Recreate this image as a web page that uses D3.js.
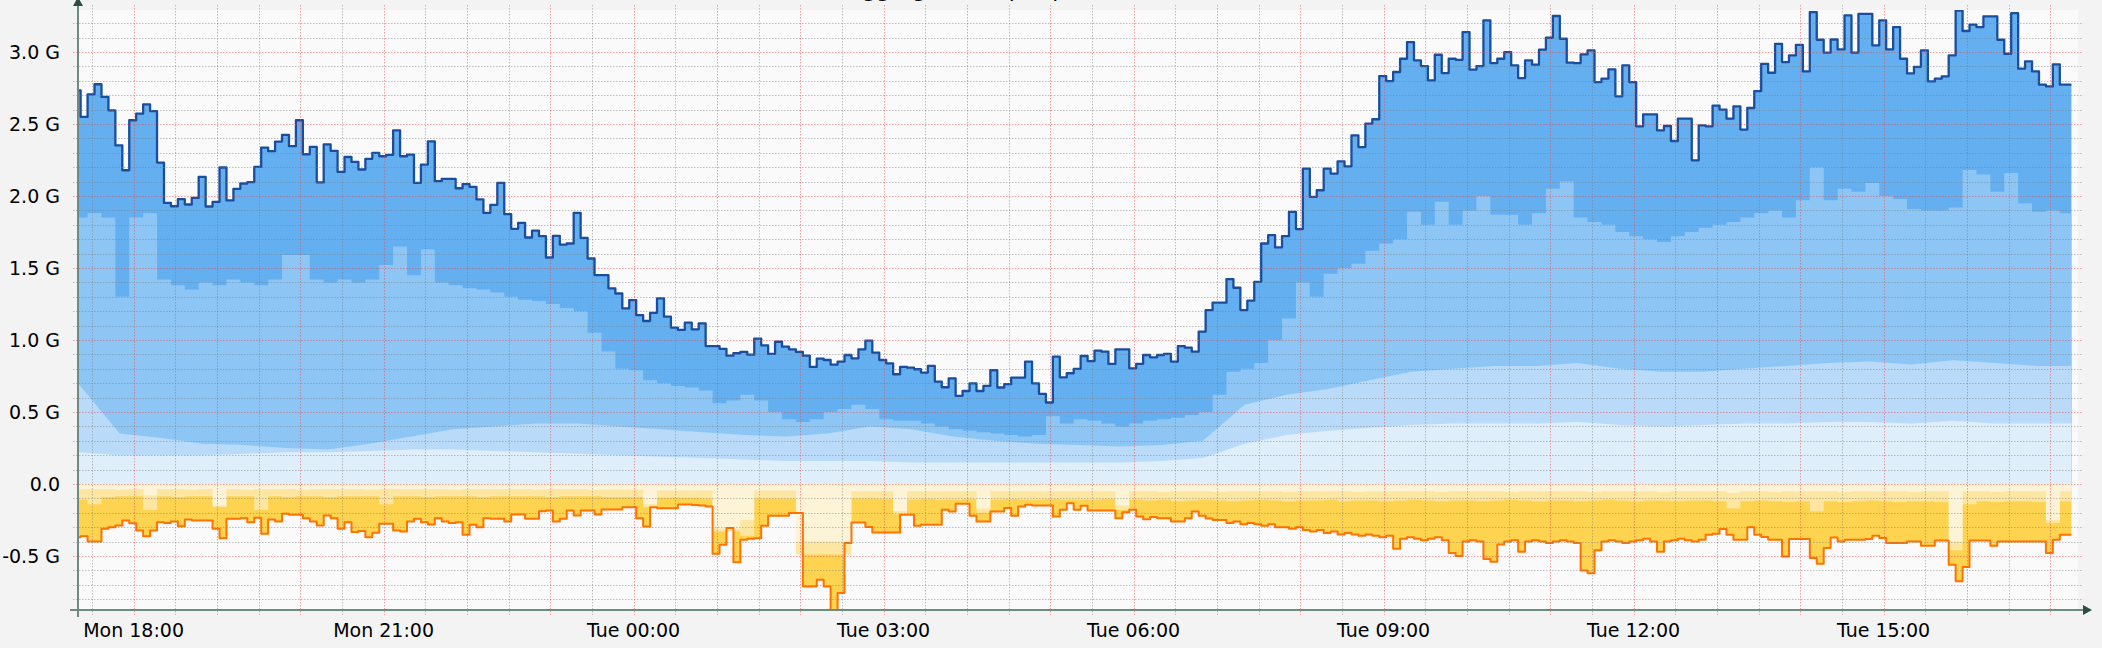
<!DOCTYPE html>
<html><head><meta charset="utf-8">
<script src="https://cdn.jsdelivr.net/npm/d3@7"></script>
<style>
body{margin:0;background:#f3f3f3;}
svg{display:block;}
text{font-family:'DejaVu Sans',sans-serif;fill:#000;}
</style></head>
<body><svg id="chart" width="2102" height="648"></svg>
<script>
// ---------------- data ----------------
const titleText = "Aggregate Output per Host (bits/sec)";
const rangeStart = new Date(2024, 0, 15, 17, 20, 0);   // Mon 17:20
const rangeEnd   = new Date(2024, 0, 16, 17, 20, 0);   // Tue 17:20
const firstSample = new Date(2024, 0, 15, 17, 16, 54);
const lastSampleEnd = new Date(2024, 0, 16, 17, 15, 15);
const sampleMinutes = 5;
const levelStepMinutes = 10;
const coarseStepMinutes = 30;
const yTickValues = [-0.5, 0, 0.5, 1, 1.5, 2, 2.5, 3];
const yTickLabels = ["-0.5 G", "0.0", "0.5 G", "1.0 G", "1.5 G", "2.0 G", "2.5 G", "3.0 G"];
const yDomain = [-0.875, 3.2917];

// top of the inbound (blue) stack, 5-minute samples
const inTotal = [2.733,2.549,2.706,2.776,2.688,2.595,2.352,2.179,2.526,2.572,2.637,2.590,2.232,1.952,1.929,1.978,1.941,1.987,2.133,1.927,1.959,2.198,1.969,2.050,2.087,2.096,2.202,2.336,2.311,2.378,2.424,2.346,2.526,2.290,2.341,2.094,2.359,2.313,2.167,2.271,2.237,2.184,2.258,2.299,2.276,2.285,2.456,2.276,2.288,2.091,2.218,2.380,2.103,2.119,2.119,2.054,2.082,2.063,1.976,1.883,1.939,2.091,1.874,1.772,1.814,1.712,1.760,1.721,1.573,1.723,1.663,1.670,1.883,
1.709,1.566,1.451,1.451,1.359,1.323,1.219,1.277,1.173,1.132,1.189,1.289,1.162,1.086,1.070,1.120,1.074,1.115,0.958,0.958,0.938,0.891,0.908,0.917,0.898,1.009,0.963,0.903,0.988,0.954,0.935,0.917,0.891,0.813,0.870,0.861,0.829,0.850,0.896,0.873,0.935,0.995,0.912,0.861,0.838,0.762,0.813,0.808,0.797,0.774,0.820,0.711,0.672,0.734,0.612,0.646,0.699,0.646,0.681,0.790,0.670,0.693,0.739,0.739,0.850,0.699,0.626,0.566,0.884,0.741,0.769,0.799,
0.889,0.854,0.926,0.919,0.834,0.935,0.935,0.803,0.834,0.896,0.880,0.896,0.903,0.850,0.958,0.947,0.919,1.058,1.208,1.259,1.259,1.423,1.363,1.208,1.273,1.404,1.670,1.728,1.643,1.721,1.890,1.770,2.190,1.994,2.040,2.190,2.156,2.241,2.206,2.421,2.340,2.503,2.533,2.833,2.798,2.861,2.953,3.069,2.942,2.902,2.803,2.981,2.854,2.953,2.946,3.138,2.877,2.902,3.22,2.923,2.953,2.999,2.907,2.819,2.942,2.912,3.016,3.099,3.25,3.092,2.926,
2.923,2.983,3.011,2.791,2.815,2.879,2.692,2.907,2.791,2.484,2.567,2.567,2.456,2.486,2.382,2.537,2.537,2.248,2.491,2.484,2.628,2.600,2.537,2.623,2.461,2.611,2.729,2.918,2.856,3.057,2.930,2.976,3.050,2.865,3.277,3.085,2.995,3.087,3.018,3.254,2.995,3.265,3.265,3.046,3.219,3.018,3.173,2.953,2.851,2.897,3.011,2.796,2.815,2.831,2.976,3.288,3.146,3.190,3.173,3.247,3.247,3.085,2.988,3.270,2.884,2.935,2.865,2.773,2.761,2.914,2.773,2.773];

// bottom of the outbound (orange) stack, 5-minute samples
const outTotal = [-0.369,-0.362,-0.399,-0.399,-0.311,-0.300,-0.288,-0.253,-0.272,-0.323,-0.362,-0.323,-0.265,-0.270,-0.260,-0.293,-0.247,-0.253,-0.253,-0.253,-0.311,-0.376,-0.242,-0.242,-0.237,-0.265,-0.235,-0.346,-0.247,-0.260,-0.207,-0.214,-0.214,-0.237,-0.260,-0.288,-0.219,-0.237,-0.311,-0.265,-0.334,-0.327,-0.369,-0.339,-0.276,-0.276,-0.323,-0.329,-0.260,-0.242,-0.265,-0.281,-0.237,-0.260,-0.270,-0.265,-0.353,-0.283,-0.300,-0.237,-0.242,-0.242,-0.260,-0.212,-0.212,-0.242,-0.242,-0.189,-0.184,-0.260,-0.242,-0.184,-0.219,-0.184,-0.184,-0.212,-0.177,-0.177,-0.177,-0.161,-0.161,-0.237,-0.295,-0.161,-0.168,-0.168,-0.168,-0.143,-0.143,-0.145,
-0.150,-0.156,-0.484,-0.422,-0.306,-0.544,-0.387,-0.380,-0.376,-0.290,-0.221,-0.221,-0.221,-0.202,-0.202,-0.711,-0.711,-0.665,-0.711,-0.900,-0.757,-0.410,-0.267,-0.267,-0.299,-0.336,-0.336,-0.336,-0.336,-0.214,-0.214,-0.290,-0.283,-0.283,-0.283,-0.179,-0.191,-0.137,-0.137,-0.221,-0.260,-0.260,-0.191,-0.191,-0.167,-0.221,-0.156,-0.144,-0.149,-0.149,-0.149,-0.225,-0.179,-0.133,-0.179,-0.151,-0.184,-0.184,-0.184,-0.184,-0.237,-0.197,-0.179,-0.225,-0.244,-0.230,-0.237,-0.237,-0.260,-0.260,-0.237,-0.191,
-0.22,-0.24,-0.25,-0.25,-0.27,-0.26,-0.28,-0.27,-0.28,-0.29,-0.28,-0.30,-0.30,-0.31,-0.30,-0.32,-0.33,-0.32,-0.34,-0.33,-0.35,-0.34,-0.35,-0.36,-0.35,-0.36,-0.37,-0.36,-0.45,-0.38,-0.37,-0.38,-0.39,-0.38,-0.37,-0.39,-0.48,-0.50,-0.40,-0.39,-0.40,-0.52,-0.54,-0.42,-0.40,-0.39,-0.47,-0.40,-0.39,-0.40,-0.41,-0.40,-0.39,-0.40,-0.41,-0.60,-0.62,-0.46,-0.40,-0.39,-0.40,-0.41,-0.40,-0.39,-0.38,-0.40,-0.47,-0.40,-0.39,-0.38,-0.39,-0.40,
-0.387,-0.352,-0.345,-0.313,-0.352,-0.387,-0.387,-0.301,-0.352,-0.368,-0.387,-0.387,-0.503,-0.382,-0.382,-0.382,-0.514,-0.554,-0.445,-0.371,-0.399,-0.387,-0.387,-0.387,-0.382,-0.359,-0.375,-0.410,-0.410,-0.410,-0.399,-0.399,-0.429,-0.429,-0.392,-0.392,-0.560,-0.676,-0.577,-0.392,-0.392,-0.392,-0.429,-0.399,-0.399,-0.399,-0.399,-0.399,-0.399,-0.399,-0.480,-0.387,-0.352,-0.352];

// top of the 3rd blue layer (10-minute readings)
const inLevel3 = [1.85,1.88,1.85,1.30,1.85,1.88,1.42,1.38,1.35,1.40,1.38,1.42,1.40,1.38,1.42,1.59,1.59,1.42,1.40,1.42,1.40,1.42,1.52,1.65,1.45,1.63,1.40,1.38,1.36,1.35,1.33,1.30,1.28,1.27,1.25,1.22,
1.20,1.05,0.92,0.80,0.79,0.72,0.70,0.68,0.67,0.65,0.56,0.58,0.62,0.58,0.50,0.45,0.43,0.45,0.50,0.52,0.55,0.52,0.45,0.44,0.44,0.42,0.40,0.38,0.37,0.36,0.35,0.34,0.33,0.34,0.47,0.42,
0.45,0.44,0.42,0.40,0.42,0.44,0.45,0.46,0.48,0.50,0.62,0.78,0.80,0.84,1.00,1.15,1.40,1.30,1.46,1.50,1.53,1.62,1.67,1.70,1.89,1.80,1.96,1.80,1.90,2.00,1.87,1.87,1.80,1.88,2.05,2.10,
1.85,1.82,1.80,1.75,1.72,1.70,1.68,1.72,1.75,1.78,1.80,1.82,1.85,1.88,1.90,1.85,1.97,2.20,1.97,2.05,2.03,2.09,2.00,1.98,1.91,1.90,1.90,1.92,2.18,2.15,2.03,2.16,1.95,1.89,1.90,1.88,1.86];
// top of the 2nd and 1st blue layers (half-hourly readings)
const inLevel2 = [0.70,0.35,0.32,0.28,0.27,0.25,0.24,0.28,0.33,0.38,0.40,0.42,0.42,0.40,0.38,0.36,0.34,0.33,0.35,0.40,0.38,0.33,0.30,0.28,0.27,0.26,0.27,0.30,0.55,0.62,0.66,0.72,0.78,0.80,0.82,0.82,0.84,0.80,0.78,0.78,0.80,0.82,0.84,0.85,0.83,0.86,0.84,0.82,0.80];
const inLevel1 = [0.22,0.20,0.20,0.20,0.21,0.22,0.22,0.23,0.24,0.24,0.23,0.22,0.21,0.20,0.19,0.18,0.17,0.16,0.16,0.16,0.15,0.15,0.15,0.15,0.15,0.15,0.16,0.18,0.28,0.34,0.37,0.39,0.41,0.42,0.42,0.42,0.43,0.41,0.40,0.41,0.42,0.42,0.43,0.43,0.42,0.44,0.42,0.42,0.41];

// bottoms of the two upper orange layers (10-minute readings)
const outLevel2 = [-0.110,-0.140,-0.090,-0.085,-0.085,-0.180,-0.085,-0.090,-0.085,-0.085,-0.160,-0.085,-0.085,-0.180,
-0.085,-0.090,-0.085,-0.085,-0.090,-0.085,-0.085,-0.085,-0.140,
-0.085,-0.085,-0.090,-0.085,-0.085,-0.085,-0.090,-0.085,-0.085,-0.085,-0.085,-0.090,-0.085,-0.085,-0.085,-0.090,-0.090,-0.090,-0.160,
-0.095,-0.095,-0.095,-0.100,-0.330,-0.330,-0.360,-0.100,-0.100,-0.100,-0.490,-0.490,-0.490,-0.490,-0.100,-0.100,-0.105,-0.210,
-0.110,-0.105,-0.110,-0.110,-0.105,-0.200,-0.110,-0.105,-0.110,-0.110,-0.105,-0.110,-0.110,-0.110,-0.105,-0.180,
-0.110,-0.115,-0.110,-0.120,-0.115,-0.110,-0.115,-0.120,-0.115,-0.110,-0.115,-0.120,-0.115,-0.115,-0.110,-0.120,-0.115,-0.115,-0.120,-0.115,-0.110,-0.115,-0.120,-0.115,-0.115,-0.120,-0.115,-0.110,-0.115,-0.120,-0.115,-0.115,-0.120,-0.115,-0.110,-0.115,-0.120,-0.115,-0.115,-0.120,-0.115,-0.115,-0.120,
-0.170,-0.120,-0.115,-0.120,-0.125,-0.120,-0.190,-0.120,-0.125,-0.120,-0.115,-0.120,-0.125,-0.120,-0.120,-0.125,-0.460,-0.140,-0.120,-0.125,-0.120,-0.120,-0.125,-0.270,-0.120,-0.120];
const outLevel1 = [-0.035,-0.035,-0.035,-0.040,-0.035,-0.080,-0.035,-0.035,-0.040,-0.035,-0.150,
-0.035,-0.040,-0.035,-0.035,-0.035,-0.040,-0.035,-0.035,-0.035,-0.035,-0.040,-0.035,-0.035,-0.035,-0.035,-0.035,-0.040,-0.035,-0.035,-0.035,-0.035,-0.035,-0.040,-0.035,-0.035,-0.035,-0.040,-0.040,-0.040,-0.040,
-0.140,-0.045,-0.045,-0.045,-0.045,-0.310,-0.310,-0.250,-0.045,-0.045,-0.045,-0.400,-0.400,-0.400,-0.400,-0.050,-0.050,-0.050,-0.190,
-0.050,-0.050,-0.050,-0.050,-0.050,-0.170,-0.050,-0.050,-0.050,-0.050,-0.050,-0.050,-0.050,-0.050,-0.050,-0.150,
-0.050,-0.050,-0.055,-0.050,-0.050,-0.050,-0.055,-0.050,-0.050,-0.050,-0.050,-0.055,-0.050,-0.050,-0.050,-0.050,-0.055,-0.050,-0.050,-0.050,-0.050,-0.050,-0.055,-0.050,-0.050,-0.050,-0.050,-0.055,-0.050,-0.050,-0.050,-0.050,-0.050,-0.055,-0.050,-0.050,-0.050,-0.050,-0.055,-0.050,-0.050,-0.050,-0.050,
-0.060,-0.050,-0.050,-0.055,-0.050,-0.050,-0.050,-0.050,-0.055,-0.050,-0.050,-0.050,-0.050,-0.055,-0.050,-0.050,-0.400,-0.050,-0.050,-0.055,-0.050,-0.050,-0.050,-0.250,-0.050,-0.050];

const blueColors = ["#64aff0", "#8dc6f4", "#b9daf8", "#deeefb"];
const orangeColors = ["#fdd34f", "#fde6a2", "#fdf3d6"];

// ---------------- drawing ----------------
const svg = d3.select("#chart");
const W = 2102, H = 648;
const plot = {left: 78, right: 2078, top: 10, bottom: 610};

svg.append("rect").attr("width", W).attr("height", H).attr("fill", "#f3f3f3");
svg.append("rect").attr("x", plot.left).attr("y", plot.top)
  .attr("width", plot.right - plot.left).attr("height", plot.bottom - plot.top).attr("fill", "#fafafa");

const x = d3.scaleTime().domain([rangeStart, rangeEnd]).range([plot.left, plot.right]);
const y = d3.scaleLinear().domain(yDomain).range([plot.bottom, plot.top]);

function series(vals, t0, stepMin) {
  const pts = vals.map((v, i) => ({t: d3.timeSecond.offset(t0, Math.round(i * stepMin * 60)), v}))
    .filter(p => p.t < lastSampleEnd);
  pts.push({t: lastSampleEnd, v: pts[pts.length - 1].v});
  return pts;
}
const inTop = series(inTotal, firstSample, sampleMinutes);
const outBot = series(outTotal, firstSample, sampleMinutes);

svg.append("clipPath").attr("id", "clip").append("rect")
  .attr("x", plot.left).attr("y", plot.top).attr("width", plot.right - plot.left).attr("height", plot.bottom - plot.top);
const g = svg.append("g").attr("clip-path", "url(#clip)");

const stepArea = d3.area().curve(d3.curveStepAfter).x(d => x(d.t)).y0(y(0)).y1(d => y(d.v));
const linArea = d3.area().curve(d3.curveLinear).x(d => x(d.t)).y0(y(0)).y1(d => y(d.v));

g.append("path").datum(inTop).attr("d", stepArea).attr("fill", blueColors[0]);
g.append("path").datum(series(inLevel3, firstSample, levelStepMinutes)).attr("d", stepArea).attr("fill", blueColors[1]);
g.append("path").datum(series(inLevel2, rangeStart, coarseStepMinutes)).attr("d", linArea).attr("fill", blueColors[2]);
g.append("path").datum(series(inLevel1, rangeStart, coarseStepMinutes)).attr("d", linArea).attr("fill", blueColors[3]);

g.append("path").datum(outBot).attr("d", stepArea).attr("fill", orangeColors[0]);
g.append("path").datum(series(outLevel2, firstSample, levelStepMinutes)).attr("d", stepArea).attr("fill", orangeColors[1]);
g.append("path").datum(series(outLevel1, firstSample, levelStepMinutes)).attr("d", stepArea).attr("fill", orangeColors[2]);

// grid (on top of areas)
const grid = svg.append("g");
const minorY = d3.range(-8, 33).map(k => k / 10).filter(v => Math.abs(v * 2 - Math.round(v * 2)) > 1e-6);
grid.selectAll(".hmin").data(minorY).join("line")
  .attr("x1", plot.left - 5).attr("x2", plot.right + 4)
  .attr("y1", d => Math.round(y(d)) + 0.5).attr("y2", d => Math.round(y(d)) + 0.5)
  .attr("stroke", "rgba(120,120,120,0.45)").attr("stroke-dasharray", "1.5,1.5");
const halfHours = d3.timeMinute.every(30).range(rangeStart, rangeEnd).filter(d => d.getMinutes() === 30);
const hours = d3.timeHour.range(rangeStart, rangeEnd);
grid.selectAll(".vmin").data(halfHours).join("line")
  .attr("y1", plot.top - 5).attr("y2", plot.bottom + 5)
  .attr("x1", d => Math.round(x(d)) + 0.5).attr("x2", d => Math.round(x(d)) + 0.5)
  .attr("stroke", "rgba(120,120,120,0.45)").attr("stroke-dasharray", "1.5,1.5");
grid.selectAll(".vmaj").data(hours).join("line")
  .attr("y1", plot.top - 5).attr("y2", plot.bottom + 5)
  .attr("x1", d => Math.round(x(d)) + 0.5).attr("x2", d => Math.round(x(d)) + 0.5)
  .attr("stroke", "rgba(230,70,70,0.5)").attr("stroke-dasharray", "1.5,1.5");
grid.selectAll(".hmaj").data(yTickValues).join("line")
  .attr("x1", plot.left - 5).attr("x2", plot.right + 4)
  .attr("y1", d => Math.round(y(d)) + 0.5).attr("y2", d => Math.round(y(d)) + 0.5)
  .attr("stroke", "rgba(230,70,70,0.5)").attr("stroke-dasharray", "1.5,1.5");

// lines
const stepLine = d3.line().curve(d3.curveStepAfter).x(d => x(d.t)).y(d => y(d.v));
g.append("path").datum(inTop).attr("d", stepLine).attr("fill", "none")
  .attr("stroke", "#1a4e9c").attr("stroke-width", 2.3).attr("stroke-linejoin", "round");
g.append("path").datum(outBot).attr("d", stepLine).attr("fill", "none")
  .attr("stroke", "#ff7300").attr("stroke-width", 2).attr("stroke-linejoin", "round");

// axes
const axisColor = "#6f8a80";
svg.append("line").attr("x1", plot.left).attr("x2", plot.left).attr("y1", plot.bottom + 7).attr("y2", 3)
  .attr("stroke", axisColor).attr("stroke-width", 2);
svg.append("line").attr("x1", plot.left - 8).attr("x2", plot.right + 8).attr("y1", plot.bottom).attr("y2", plot.bottom)
  .attr("stroke", axisColor).attr("stroke-width", 2);
svg.append("path").attr("d", `M${plot.left - 5},6 L${plot.left + 5},6 L${plot.left},-3 Z`).attr("fill", "#2e4f40");
svg.append("path").attr("d", `M${plot.right + 5},${plot.bottom - 5} L${plot.right + 5},${plot.bottom + 5} L${plot.right + 14},${plot.bottom} Z`).attr("fill", "#2e4f40");

// labels
svg.selectAll(".ylab").data(yTickValues).join("text")
  .attr("x", 60).attr("y", d => y(d) + 7).attr("text-anchor", "end")
  .attr("font-size", 19).text((d, i) => yTickLabels[i]);
const labelHours = hours.filter(d => d.getHours() % 3 === 0);
const fmt = d3.timeFormat("%a %H:%M");
svg.selectAll(".xlab").data(labelHours).join("text")
  .attr("x", d => x(d)).attr("y", 637).attr("text-anchor", "middle")
  .attr("font-size", 19).text(d => fmt(d));
svg.append("text").attr("x", W / 2).attr("y", -3).attr("text-anchor", "middle")
  .attr("font-size", 22).text(titleText);
</script></body></html>
